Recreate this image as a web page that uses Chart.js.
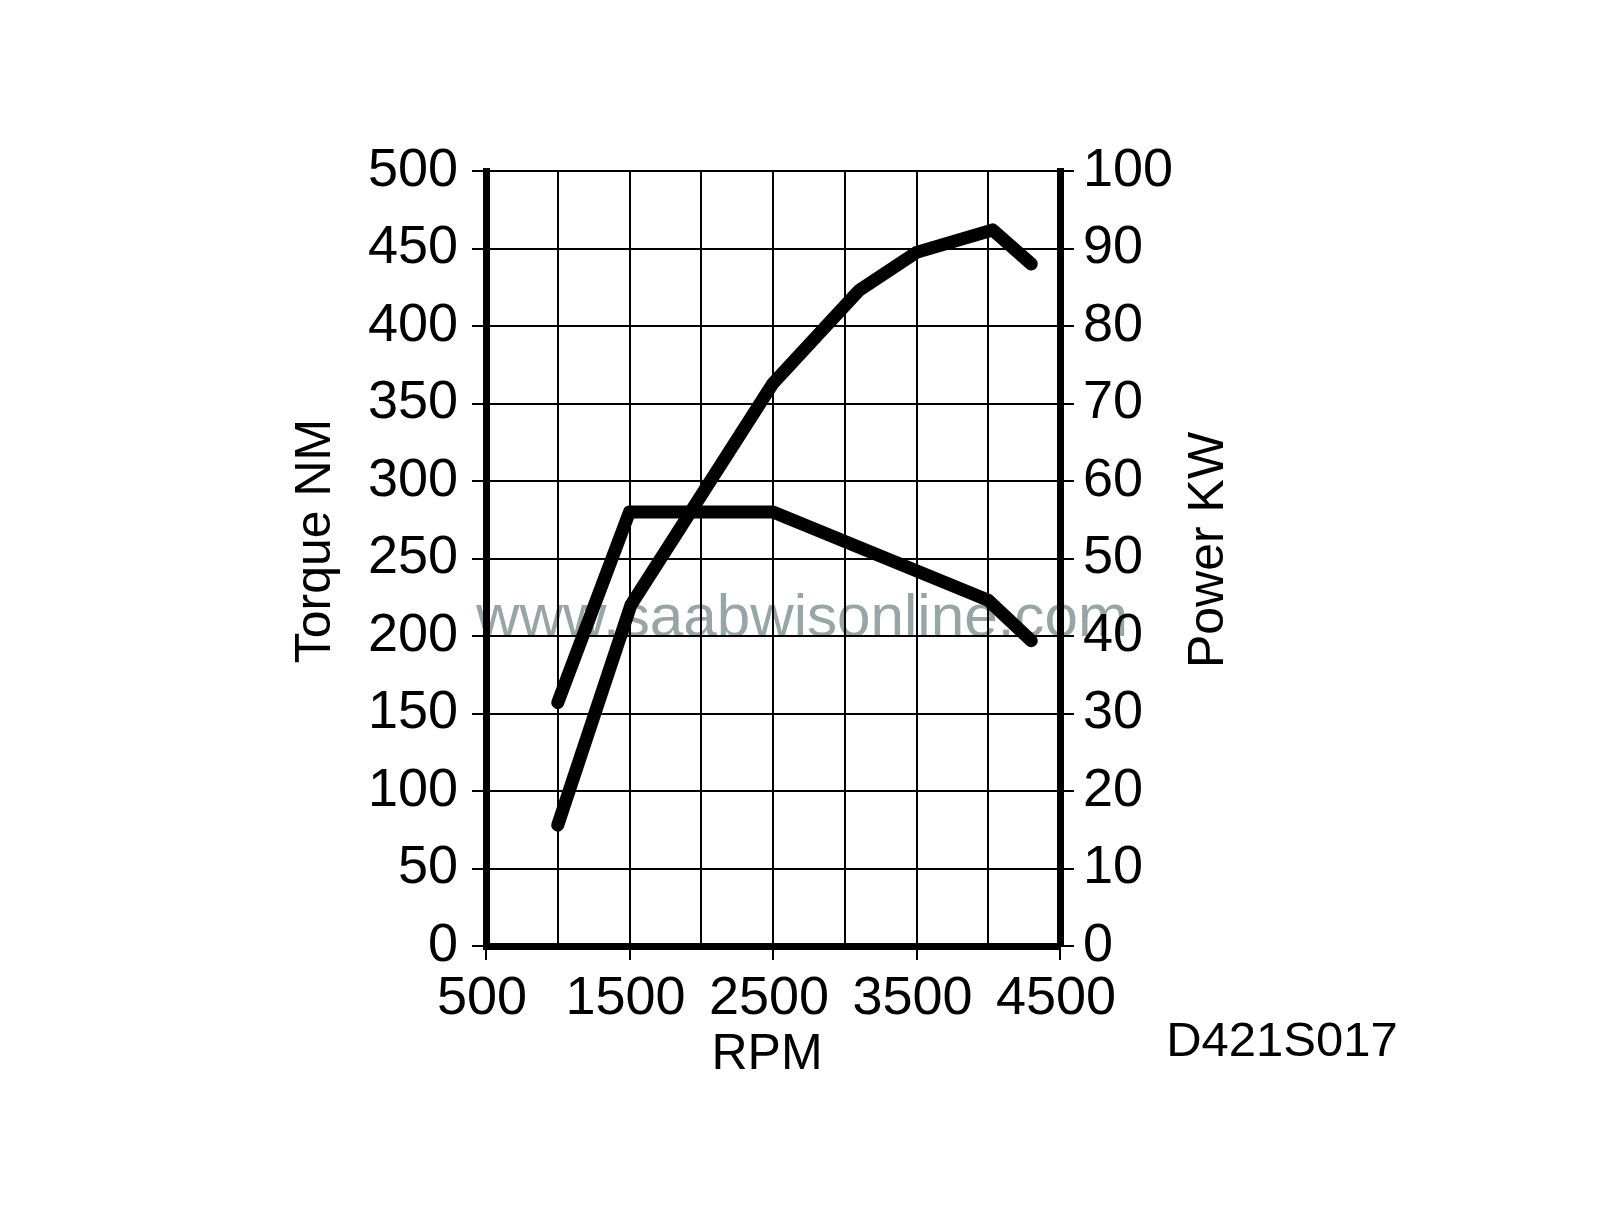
<!DOCTYPE html>
<html>
<head>
<meta charset="utf-8">
<script src="https://cdn.jsdelivr.net/npm/chart.js@4.4.1/dist/chart.umd.min.js"></script>
<style>
  html, body { margin: 0; padding: 0; background: #fff; }
  #wrap { width: 1600px; height: 1224px; }
</style>
</head>
<body>
<div id="wrap"><canvas id="chart" width="1600" height="1224"></canvas></div>
<script>
// data
const torqueRpm = [1000, 1500, 2500, 4000, 4300];
const torqueNm  = [157, 280, 280, 223, 197];
const powerRpm  = [1000, 1510, 2500, 3100, 3500, 4030, 4300];
const powerKw   = [15.6, 44, 72.6, 84.6, 89.5, 92.4, 88];

const xLabels = [500, 1500, 2500, 3500, 4500];

const FONT  = "'Liberation Sans', Arial, sans-serif";
const BLACK = '#000';

const pts = (xs, ys) => xs.map((x, i) => ({ x, y: ys[i] }));

const textPlugin = {
  id: 'texts',
  beforeDraw(chart) {
    // watermark sits under the grid and curves
    const c = chart.ctx;
    c.save();
    c.fillStyle = '#98a5a5';
    c.font = `60px ${FONT}`;
    c.textAlign = 'left';
    c.textBaseline = 'alphabetic';
    const t = 'www.saabwisonline.com';
    const w = c.measureText(t).width;
    c.translate(476, 636);
    c.scale(652 / w, 1);
    c.fillText(t, 0, 0);
    c.restore();
  },
  afterDraw(chart) {
    const c = chart.ctx;
    c.save();
    c.fillStyle = BLACK;
    c.textAlign = 'center';
    c.textBaseline = 'middle';
    c.font = `50px ${FONT}`;

    c.save();
    c.translate(316, 541);
    c.rotate(-Math.PI / 2);
    c.fillText('Torque NM', 0, 0);
    c.restore();

    c.save();
    c.translate(1209, 550);
    c.rotate(-Math.PI / 2);
    c.fillText('Power KW', 0, 0);
    c.restore();

    c.fillText('RPM', 767, 1055);
    c.font = `49px ${FONT}`;
    c.fillText('D421S017', 1282, 1042);
    c.restore();
  }
};

new Chart(document.getElementById('chart'), {
  type: 'line',
  data: {
    datasets: [
      {
        label: 'Torque',
        data: pts(torqueRpm, torqueNm),
        yAxisID: 'y',
        borderColor: BLACK,
        borderWidth: 13,
        borderCapStyle: 'round',
        borderJoinStyle: 'round',
        pointRadius: 0,
        tension: 0,
      },
      {
        label: 'Power',
        data: pts(powerRpm, powerKw),
        yAxisID: 'y1',
        borderColor: BLACK,
        borderWidth: 13,
        borderCapStyle: 'round',
        borderJoinStyle: 'round',
        pointRadius: 0,
        tension: 0,
      },
    ],
  },
  options: {
    responsive: false,
    animation: false,
    layout: { padding: { top: 171, left: 0, right: 0, bottom: 0 } },
    plugins: { legend: { display: false }, tooltip: { enabled: false } },
    scales: {
      x: {
        type: 'linear',
        min: 500, max: 4500,
        afterFit: s => { s.height = 278; },
        grid: {
          color: BLACK, lineWidth: 2, tickLength: 14,
          tickColor: ctx => xLabels.includes(ctx.tick && ctx.tick.value) ? BLACK : 'rgba(0,0,0,0)',
          tickWidth: 2,
        },
        border: { color: BLACK, width: 7 },
        ticks: {
          stepSize: 500, autoSkip: false, maxRotation: 0, padding: 7, labelOffset: -4,
          color: BLACK, font: { family: FONT, size: 54 },
          callback: v => xLabels.includes(v) ? String(v) : '',
        },
      },
      y: {
        position: 'left',
        min: 0, max: 500,
        afterFit: s => { s.width = 486; },
        grid: { color: BLACK, lineWidth: 2, tickLength: 14 },
        border: { color: BLACK, width: 7 },
        ticks: {
          stepSize: 50, padding: 14,
          color: BLACK, font: { family: FONT, size: 54 },
        },
      },
      y1: {
        position: 'right',
        min: 0, max: 100,
        afterFit: s => { s.width = 540; },
        grid: { drawOnChartArea: false, color: BLACK, lineWidth: 2, tickLength: 14 },
        border: { color: BLACK, width: 7 },
        ticks: {
          stepSize: 10, padding: 9,
          color: BLACK, font: { family: FONT, size: 54 },
        },
      },
    },
  },
  plugins: [textPlugin],
});
</script>
</body>
</html>
